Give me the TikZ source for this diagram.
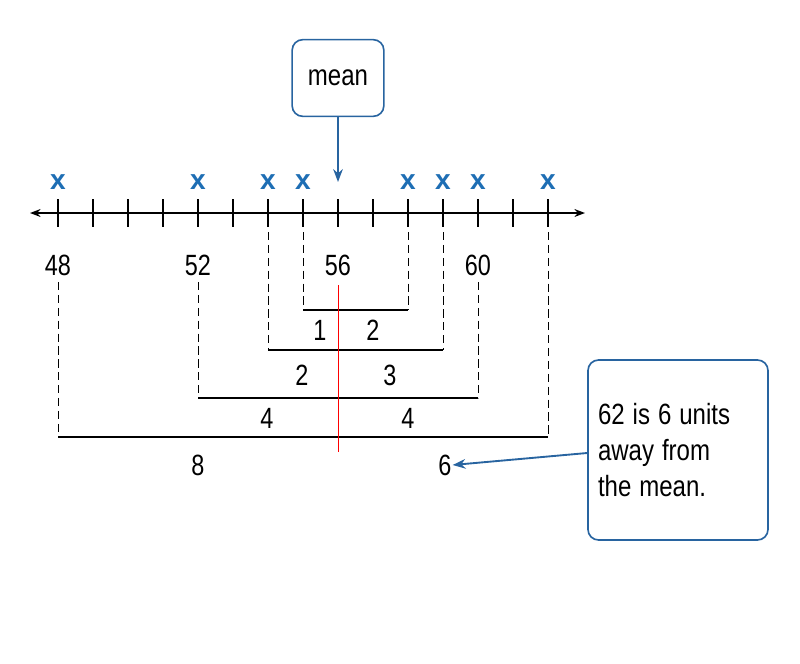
\documentclass[tikz,border=0pt]{standalone}
\usepackage{fontspec}
\setmainfont{Liberation Sans}
\usetikzlibrary{arrows.meta,positioning}
\definecolor{callblue}{RGB}{40,100,160}
\definecolor{markblue}{RGB}{30,110,180}
\begin{document}
\begin{tikzpicture}[x=0.03cm,y=-0.03cm,
    lbl/.style={font=\fontsize{25}{27}\selectfont, inner sep=1pt, xscale=0.8, transform shape},
    xmark/.style={font=\bfseries\fontsize{24}{26}\selectfont, text=markblue, inner sep=0pt},
    callout/.style={draw=callblue, line width=1.4pt, rounded corners=9pt, fill=white, font=\fontsize{25}{31}\selectfont, align=left},
    guide/.style={dash pattern=on 7pt off 4pt, line width=0.8pt},
    bar/.style={line width=1.1pt}]
\useasboundingbox (0,0) rectangle (800,664);
% number line
\coordinate (L) at (30,213);
\coordinate (R) at (585,213);
\draw[line width=1.6pt, {Stealth[length=9pt]}-{Stealth[length=9pt]}] (L) -- (R);
\foreach \k in {0,...,14}
  \draw[line width=1.1pt] ({58+35*\k},199) -- ({58+35*\k},227);
\foreach \v in {48,52,56,60}
  \node[lbl] (n\v) at ({58+35*(\v-48)},265) {\v};
% data marks
\foreach \v in {48,52,54,55,58,59,60,62}
  \node[xmark] (x\v) at ({58+35*(\v-48)},182) {x};
% mean
\node[callout, minimum width=2.75cm, minimum height=2.3cm] (mean) at (338,78) {\scalebox{0.82}[1]{mean}};
\draw[callblue, line width=1.6pt, -{Stealth[length=11pt]}] (mean.south) -- (338,182);
% distance brackets
\draw[guide] (303,232) -- (303,310); \draw[guide] (408,232) -- (408,310);
\draw[bar] (303,310) -- (408,310);
\draw[guide] (268,232) -- (268,350); \draw[guide] (443,232) -- (443,350);
\draw[bar] (268,350) -- (443,350);
\draw[guide] (198,282) -- (198,398); \draw[guide] (478,282) -- (478,398);
\draw[bar] (198,398) -- (478,398);
\draw[guide] (58,282) -- (58,437); \draw[guide] (548,232) -- (548,437);
\draw[line width=1.6pt] (58,437) -- (548,437);
\draw[red, line width=0.8pt] (338,285) -- (338,452);
\node[lbl] (d1) at (320,330) {1};
\node[lbl] (d2) at (373,330) {2};
\node[lbl] (d3) at (302,375) {2};
\node[lbl] (d4) at (390,375) {3};
\node[lbl] (d5) at (267,418) {4};
\node[lbl] (d6) at (408,418) {4};
\node[lbl] (d7) at (198,465) {8};
\node[lbl] (d8) at (445,465) {6};
% note
\node[callout, minimum width=5.4cm, minimum height=5.4cm, text width=4.8cm] (note) at (678,450) {\scalebox{0.82}[1]{\parbox{5.6cm}{62 is 6 units\\ away from\\ the mean.}}};
\draw[callblue, line width=1.6pt, -{Stealth[length=11pt]}] (note.west |- 0,453) -- (d8.east);
\end{tikzpicture}
\end{document}
